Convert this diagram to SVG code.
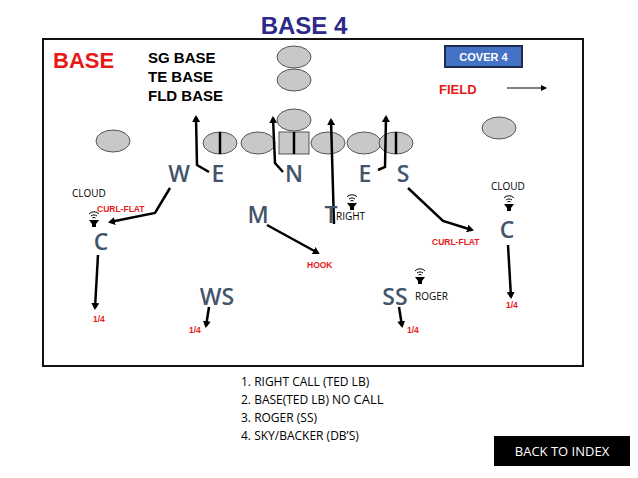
<svg xmlns="http://www.w3.org/2000/svg" width="638" height="478" viewBox="0 0 638 478">
<defs>
<marker id="ah" markerWidth="8" markerHeight="8" refX="5" refY="4" orient="auto" markerUnits="userSpaceOnUse"><path d="M0,0 L7,4 L0,8 Z" fill="#000"/></marker>
<marker id="ahs" markerWidth="6" markerHeight="6" refX="5" refY="3" orient="auto" markerUnits="userSpaceOnUse"><path d="M0,0 L6,3 L0,6 Z" fill="#000"/></marker>
<g id="spk"><path d="M-5,-6 A6,5 0 0 1 5,-6 M-3,-4 A4,3 0 0 1 3,-4 M-1.5,-2 A2,1.5 0 0 1 1.5,-2" fill="none" stroke="#000" stroke-width="1"/><path d="M-5,0 L5,0 L2,4 L2,7 L-2,7 L-2,4 Z" fill="#000"/></g>
</defs>
<style>
.ov{fill:#c8c8c8;stroke:#555;stroke-width:1}
.pl{font-family:"Open Sans",Lato,sans-serif;font-size:23px;font-weight:600;fill:#44546a}
.red{font-family:"Liberation Sans",Arial,sans-serif;font-weight:bold;fill:#e81818}
.sm{font-family:"Open Sans","Noto Sans",sans-serif;font-size:10px;fill:#000}
.rt{fill:none;stroke:#000;stroke-width:2.5;marker-end:url(#ah)}
.li{font-family:"Open Sans","Noto Sans",sans-serif;font-size:12px;fill:#000}
</style>
<rect width="638" height="478" fill="#fff"/>
<text x="304" y="34" text-anchor="middle" font-family="Liberation Sans,Arial,sans-serif" font-weight="bold" font-size="24" fill="#2e2a8a">BASE 4</text>
<rect x="43" y="39" width="540" height="327" fill="#fff" stroke="#111" stroke-width="2"/>
<text x="53" y="68" class="red" font-size="22">BASE</text>
<g font-family="Liberation Sans,Arial,sans-serif" font-weight="bold" font-size="15" fill="#000"><text x="148" y="63">SG BASE</text><text x="148" y="82">TE BASE</text><text x="148" y="101">FLD BASE</text></g>
<g id="cover"><rect x="445" y="46" width="77" height="21" fill="#4472c4" stroke="#1f2a50" stroke-width="2"/><text x="483.5" y="61" text-anchor="middle" font-family="Liberation Sans,Arial,sans-serif" font-weight="bold" font-size="11" fill="#fff">COVER 4</text></g>
<text x="439" y="94" class="red" font-size="13">FIELD</text>
<line x1="507" y1="88" x2="546" y2="88" stroke="#000" stroke-width="1" marker-end="url(#ahs)"/>
<g id="offense">
<ellipse class="ov" cx="294" cy="57" rx="17" ry="11"/>
<ellipse class="ov" cx="294" cy="80" rx="17" ry="11"/>
<ellipse class="ov" cx="294" cy="120" rx="17" ry="11"/>
<ellipse class="ov" cx="113" cy="141" rx="17" ry="11"/>
<ellipse class="ov" cx="220" cy="143" rx="17" ry="11"/><line x1="220" y1="132" x2="220" y2="154" stroke="#000" stroke-width="2.5"/>
<ellipse class="ov" cx="258" cy="143" rx="17" ry="11"/>
<rect class="ov" x="279" y="132" width="30" height="22"/><line x1="294" y1="132" x2="294" y2="154" stroke="#000" stroke-width="2.5"/>
<ellipse class="ov" cx="328" cy="143" rx="17" ry="11"/>
<ellipse class="ov" cx="364" cy="143" rx="17" ry="11"/>
<ellipse class="ov" cx="396" cy="143" rx="17" ry="11"/><line x1="396" y1="132" x2="396" y2="154" stroke="#000" stroke-width="2.5"/>
<ellipse class="ov" cx="499" cy="128" rx="17" ry="11"/>
</g>
<g id="connectors">
<path class="rt" d="M209,172 L197,165 L196,117"/>
<path class="rt" d="M283,172 L275,163 L273,118"/>
<path class="rt" d="M334,224 L331,120"/>
<path class="rt" d="M378,170 L385,167 L386,117"/>
<path class="rt" d="M170,188 L155,213 L110,222"/>
<path class="rt" d="M408,188 L443,221 L472,230"/>
<path class="rt" d="M267,225 L318,253"/>
<path class="rt" d="M98,255 L95,308"/>
<path class="rt" d="M508,245 L511,297"/>
<path class="rt" d="M209,307 L206,326"/>
<path class="rt" d="M399,307 L402,326"/>
</g>
<g id="defense">
<text class="pl" x="179" y="182" text-anchor="middle">W</text>
<text class="pl" x="218" y="182" text-anchor="middle">E</text>
<text class="pl" x="294" y="182" text-anchor="middle">N</text>
<text class="pl" x="365" y="182" text-anchor="middle">E</text>
<text class="pl" x="403" y="182" text-anchor="middle">S</text>
<text class="pl" x="258" y="223" text-anchor="middle">M</text>
<text class="pl" x="331" y="223" text-anchor="middle">T</text>
<text class="pl" x="101" y="250" text-anchor="middle">C</text>
<text class="pl" x="507" y="238" text-anchor="middle">C</text>
<text class="pl" x="217" y="305" text-anchor="middle">WS</text>
<text class="pl" x="395" y="305" text-anchor="middle">SS</text>
</g>
<g id="labels">
<text class="sm" x="72" y="197">CLOUD</text>
<text class="sm" x="491" y="190">CLOUD</text>
<text class="sm" x="336" y="220">RIGHT</text>
<text class="sm" x="415" y="300">ROGER</text>
<text class="red" font-size="8.5" x="97" y="212">CURL-FLAT</text>
<text class="red" font-size="8.5" x="432" y="245">CURL-FLAT</text>
<text class="red" font-size="8.5" x="307" y="268">HOOK</text>
<text class="red" font-size="8.5" x="93" y="322">1/4</text>
<text class="red" font-size="8.5" x="189" y="333">1/4</text>
<text class="red" font-size="8.5" x="407" y="333">1/4</text>
<text class="red" font-size="8.5" x="506" y="308">1/4</text>
</g>
<use href="#spk" x="94" y="220"/>
<use href="#spk" x="352" y="203"/>
<use href="#spk" x="509" y="204"/>
<use href="#spk" x="420" y="277"/>
<g id="list">
<text class="li" x="241" y="386">1.  RIGHT CALL (TED LB)</text>
<text class="li" x="241" y="404">2.  BASE(TED LB) NO <tspan font-size="13">CALL</tspan></text>
<text class="li" x="241" y="422">3.  ROGER (SS)</text>
<text class="li" x="241" y="440">4.  SKY/BACKER (DB’S)</text>
</g>
<g id="back"><rect x="494" y="436" width="136" height="30" fill="#000"/><text x="562" y="456" text-anchor="middle" font-family="Open Sans,Noto Sans,sans-serif" font-size="13" fill="#fff">BACK TO INDEX</text></g>
</svg>
